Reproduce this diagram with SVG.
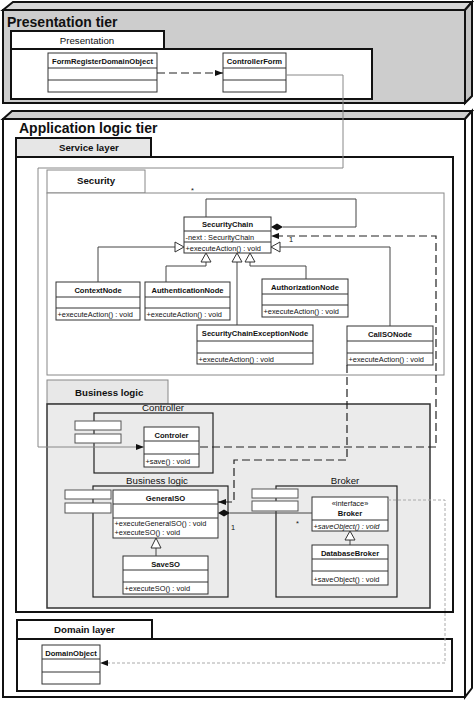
<svg xmlns="http://www.w3.org/2000/svg" width="474" height="701" viewBox="0 0 474 701">
<style>
text{font-family:"Liberation Sans",Arial,sans-serif;fill:#111}
.tier{font-size:14px;font-weight:bold}
.pkg{font-size:9.7px;font-weight:bold}
.comp{font-size:9.7px}
.cn{font-size:7.6px;font-weight:bold}
.op{font-size:7.4px}
.c rect{fill:#fff;stroke:#333;stroke-width:1}
.c line{stroke:#333;stroke-width:1}
.thick{stroke:#111;stroke-width:2}
.thin{stroke:#888;stroke-width:1}
.gen{fill:#fff;stroke:#333;stroke-width:1}
.cl{fill:none;stroke:#444;stroke-width:1}
.dash{fill:none;stroke:#222;stroke-width:1.2;stroke-dasharray:8,4}
.gl{fill:none;stroke:#888;stroke-width:1}
.dot{fill:none;stroke:#aaa;stroke-width:1;stroke-dasharray:3,2}
.sm{fill:#fff;stroke:#555;stroke-width:1}
</style>
<defs>
<marker id="ah" markerWidth="8" markerHeight="6" refX="8" refY="3" orient="auto" markerUnits="userSpaceOnUse">
<path d="M0,0 L8,3 L0,6 Z" fill="#111"/>
</marker>
</defs>

<g id="presentation-tier">
<polygon points="3,10 13,2 472,2 465,10" fill="#d6d6d6" class="thick"/>
<polygon points="465,10 472,2 472,96 465,103" fill="#c2c2c2" class="thick"/>
<rect x="3" y="10" width="462" height="93" fill="#cdcdcd" class="thick"/>
<text x="7" y="27" class="tier">Presentation tier</text>
</g>

<g id="presentation-pkg">
<rect x="11" y="31" width="153" height="18" fill="#fff" class="thick"/>
<rect x="11" y="49" width="361" height="50" fill="#fff" class="thick"/>
<text x="87" y="44" class="comp" text-anchor="middle">Presentation</text>
</g>

<g id="FormRegisterDomainObject" class="c">
<rect x="48" y="53" width="109" height="39"/>
<line x1="48" y1="68" x2="157" y2="68"/><line x1="48" y1="80" x2="157" y2="80"/>
<text x="102.5" y="64" class="cn" text-anchor="middle">FormRegisterDomainObject</text>
</g>

<g id="ControllerForm" class="c">
<rect x="223" y="53" width="63" height="39"/>
<line x1="223" y1="68" x2="286" y2="68"/><line x1="223" y1="80" x2="286" y2="80"/>
<text x="254.5" y="64" class="cn" text-anchor="middle">ControllerForm</text>
</g>

<g id="application-tier">
<polygon points="3,119 12,111 472,111 465,119" fill="#cfcfcf" class="thick"/>
<polygon points="465,119 472,111 472,688 465,697" fill="#fff" class="thick"/>
<rect x="3" y="119" width="462" height="578" fill="#fff" class="thick"/>
<text x="19" y="133" class="tier">Application logic tier</text>
</g>

<g id="service-layer">
<rect x="16" y="138" width="135" height="19" fill="#e6e6e6" class="thick"/>
<rect x="16" y="157" width="437" height="455" fill="#fff" class="thick"/>
<text x="59" y="151" class="pkg">Service layer</text>
</g>

<g id="security-pkg">
<rect x="47" y="170" width="98" height="23" fill="#fff" class="thin"/>
<rect x="47" y="193" width="397" height="182" fill="#fff" class="thin"/>
<text x="77" y="184" class="pkg">Security</text>
<text x="191" y="193" class="op" font-size="6">*</text>
</g>

<g id="SecurityChain" class="c">
<rect x="184" y="217" width="87" height="36"/>
<line x1="184" y1="231" x2="271" y2="231"/><line x1="184" y1="242" x2="271" y2="242"/>
<text x="227.5" y="227" class="cn" text-anchor="middle">SecurityChain</text>
<text x="185.5" y="239.5" class="op">-next : SecurityChain</text>
<text x="185.5" y="250.5" class="op">+executeAction() : void</text>
</g>

<g id="ContextNode" class="c">
<rect x="56" y="282" width="84" height="38"/>
<line x1="56" y1="297" x2="140" y2="297"/><line x1="56" y1="308" x2="140" y2="308"/>
<text x="98" y="293" class="cn" text-anchor="middle">ContextNode</text>
<text x="57.5" y="317" class="op">+executeAction() : void</text>
</g>

<g id="AuthenticationNode" class="c">
<rect x="145" y="282" width="85" height="38"/>
<line x1="145" y1="297" x2="230" y2="297"/><line x1="145" y1="308" x2="230" y2="308"/>
<text x="187.5" y="293" class="cn" text-anchor="middle">AuthenticationNode</text>
<text x="146.5" y="317" class="op">+executeAction() : void</text>
</g>

<g id="AuthorizationNode" class="c">
<rect x="262" y="279" width="86" height="38"/>
<line x1="262" y1="294" x2="348" y2="294"/><line x1="262" y1="305" x2="348" y2="305"/>
<text x="305" y="290" class="cn" text-anchor="middle">AuthorizationNode</text>
<text x="263.5" y="314" class="op">+executeAction() : void</text>
</g>

<g id="SecurityChainExceptionNode" class="c">
<rect x="197" y="325" width="116" height="39"/>
<line x1="197" y1="341" x2="313" y2="341"/><line x1="197" y1="353" x2="313" y2="353"/>
<text x="255" y="336" class="cn" text-anchor="middle">SecurityChainExceptionNode</text>
<text x="198.5" y="361.5" class="op">+executeAction() : void</text>
</g>

<g id="CallSONode" class="c">
<rect x="347" y="326" width="86" height="39"/>
<line x1="347" y1="341" x2="433" y2="341"/><line x1="347" y1="353" x2="433" y2="353"/>
<text x="390" y="337" class="cn" text-anchor="middle">CallSONode</text>
<text x="348.5" y="362" class="op">+executeAction() : void</text>
</g>

<g id="business-logic-pkg">
<rect x="47" y="380" width="121" height="24" fill="#e8e8e8" class="thin"/>
<rect x="47" y="404" width="383" height="204" fill="#ebebeb" stroke="#333" stroke-width="1.5"/>
<text x="75" y="396" class="pkg">Business logic</text>
</g>

<g id="Controller-component">
<text x="163" y="411" class="comp" text-anchor="middle">Controller</text>
<rect x="94" y="413" width="119" height="60" fill="none" stroke="#222" stroke-width="1.2"/>
<rect x="75" y="421" width="46" height="9" class="sm"/>
<rect x="75" y="434" width="46" height="9" class="sm"/>
</g>

<g id="Controler" class="c">
<rect x="144" y="427" width="55" height="40"/>
<line x1="144" y1="441" x2="199" y2="441"/><line x1="144" y1="454" x2="199" y2="454"/>
<text x="171.5" y="437.5" class="cn" text-anchor="middle">Controler</text>
<text x="145.5" y="464" class="op">+save() : void</text>
</g>

<g id="BusinessLogic-component">
<text x="157" y="484" class="comp" text-anchor="middle">Business logic</text>
<rect x="93" y="486" width="135" height="111" fill="none" stroke="#222" stroke-width="1.2"/>
<rect x="65" y="490" width="46" height="9" class="sm"/>
<rect x="65" y="503" width="46" height="10" class="sm"/>
</g>

<g id="GeneralSO" class="c">
<rect x="113" y="490" width="105" height="48"/>
<line x1="113" y1="504" x2="218" y2="504"/><line x1="113" y1="518" x2="218" y2="518"/>
<text x="165.5" y="500.5" class="cn" text-anchor="middle">GeneralSO</text>
<text x="114.5" y="526" class="op">+executeGeneralSO() : void</text>
<text x="114.5" y="534.5" class="op">+executeSO() : void</text>
</g>

<g id="SaveSO" class="c">
<rect x="123" y="556" width="85" height="38"/>
<line x1="123" y1="570" x2="208" y2="570"/><line x1="123" y1="582" x2="208" y2="582"/>
<text x="165.5" y="566.5" class="cn" text-anchor="middle">SaveSO</text>
<text x="124.5" y="591" class="op">+executeSO() : void</text>
</g>

<g id="Broker-component">
<text x="345" y="484" class="comp" text-anchor="middle">Broker</text>
<rect x="276" y="486" width="121" height="111" fill="none" stroke="#222" stroke-width="1.2"/>
<rect x="252" y="489" width="46" height="9" class="sm"/>
<rect x="252" y="501" width="46" height="10" class="sm"/>
</g>

<g id="Broker" class="c">
<rect x="312" y="497" width="76" height="34"/>
<line x1="312" y1="520" x2="388" y2="520"/>
<text x="350" y="505.5" class="op" text-anchor="middle">«interface»</text>
<text x="350" y="516" class="cn" text-anchor="middle">Broker</text>
<text x="313.5" y="528.5" class="op" font-style="italic">+saveObject() : void</text>
</g>

<g id="DatabaseBroker" class="c">
<rect x="312" y="545" width="76" height="40"/>
<line x1="312" y1="559" x2="388" y2="559"/><line x1="312" y1="571" x2="388" y2="571"/>
<text x="350" y="555.5" class="cn" text-anchor="middle">DatabaseBroker</text>
<text x="313.5" y="581.5" class="op">+saveObject() : void</text>
</g>

<g id="domain-layer">
<rect x="17" y="620" width="135" height="19" fill="#fff" class="thick"/>
<rect x="17" y="639" width="435" height="52" fill="#fff" class="thick"/>
<text x="54" y="633" class="pkg">Domain layer</text>
</g>

<g id="DomainObject" class="c">
<rect x="42" y="645" width="58" height="39"/>
<line x1="42" y1="659" x2="100" y2="659"/><line x1="42" y1="672" x2="100" y2="672"/>
<text x="71" y="655.5" class="cn" text-anchor="middle">DomainObject</text>
</g>

<g id="connectors">
<path d="M157,73 H223" class="dash" stroke-dasharray="4,3" stroke-width="1" marker-end="url(#ah)"/>
<path d="M286,75 H343 V168 H38 V447 H144" class="gl" marker-end="url(#ah)"/>
<path d="M206,217 V199 H356 V227 H283" class="cl"/>
<polygon points="271,227 277,223.5 283,227 277,230.5" fill="#111"/>
<path d="M200,447 H436 V236 H271" class="dash" marker-end="url(#ah)"/>
<text x="289" y="242" class="op" font-size="7">1</text>
<path d="M98,282 V247 H175" class="cl"/>
<polygon points="184,247 175,242 175,252" class="gen"/>
<path d="M166,282 V266 H206 V262" class="cl"/>
<polygon points="206,253 201,262 211,262" class="gen"/>
<path d="M237,325 V262" class="cl"/>
<polygon points="237,253 232,262 242,262" class="gen"/>
<path d="M306,279 V266 H250 V262" class="cl"/>
<polygon points="250,253 245,262 255,262" class="gen"/>
<path d="M390,326 V247 H280" class="cl"/>
<polygon points="271,247 280,242 280,252" class="gen"/>
<path d="M347,365 V460 H234 V502 H218" class="dash" marker-end="url(#ah)"/>
<path d="M312,513 H230" class="cl"/>
<polygon points="218,513 224,509.5 230,513 224,516.5" fill="#111"/>
<text x="231" y="530" class="op" font-size="7">1</text>
<text x="296" y="526" class="op" font-size="6">*</text>
<path d="M156,548 V556" class="cl"/>
<polygon points="156,538 151,548 161,548" class="gen"/>
<path d="M350,540 V545" class="cl"/>
<polygon points="350,531 345,540 355,540" class="gen"/>
<path d="M388,500 H445 V663 H100" class="dot" marker-end="url(#ah)"/>
</g>
</svg>
